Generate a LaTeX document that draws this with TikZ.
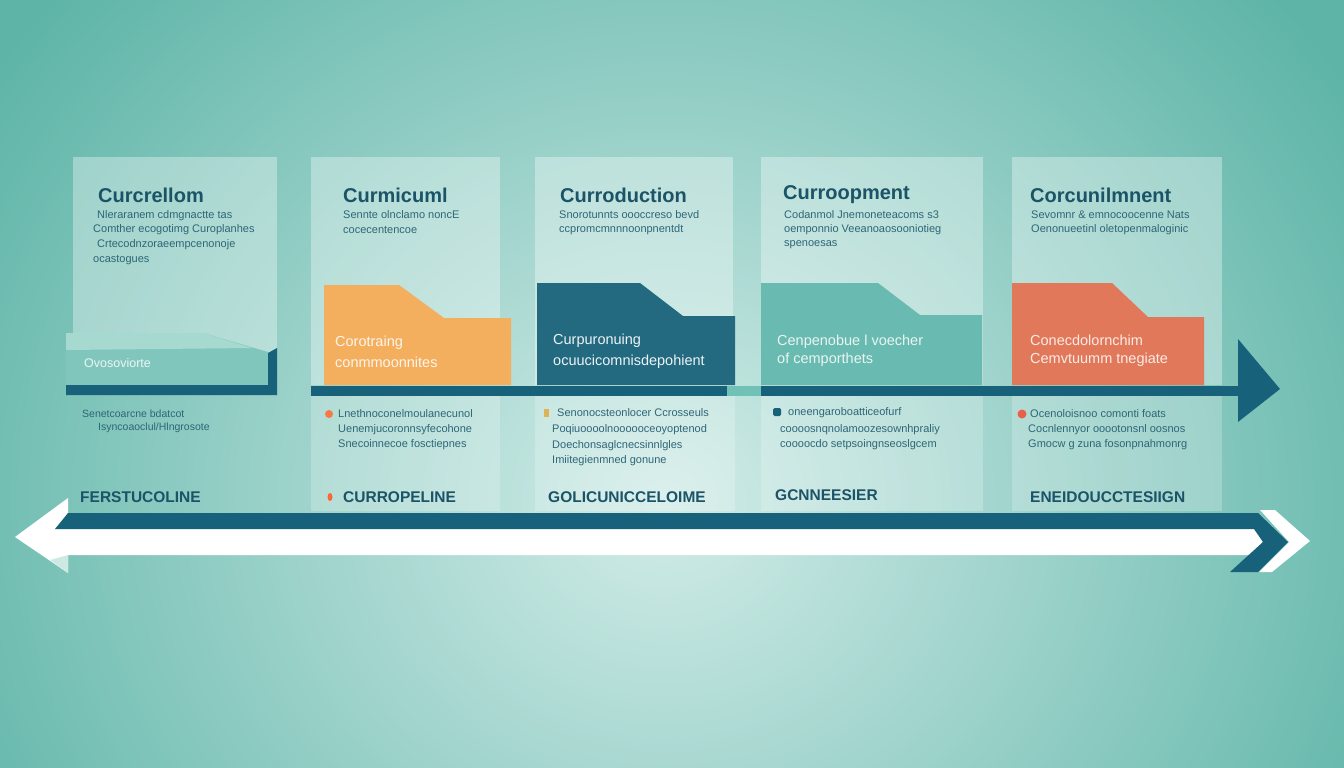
\documentclass[tikz,border=0pt]{standalone}
\usepackage{fontspec}
\setmainfont{Liberation Sans}
\definecolor{bgout}{HTML}{5DB4A7}
\definecolor{bgin}{HTML}{D2ECE8}
\definecolor{darkteal}{HTML}{17627A}
\definecolor{titlec}{HTML}{1B5367}
\definecolor{descc}{HTML}{2E6677}
\definecolor{orangetab}{HTML}{F3AE5E}
\definecolor{tealtab}{HTML}{69BAB0}
\definecolor{redtab}{HTML}{E1785A}
\definecolor{ribbonA}{HTML}{80C6BC}
\definecolor{ribbonB}{HTML}{A6DAD1}
\definecolor{gapc}{HTML}{72C1B6}
\tikzset{
  panel/.style={fill=white, fill opacity=0.34, draw=none},
  lowpanel/.style={fill=white, fill opacity=0.22, draw=none},
  ttl/.style={anchor=west, inner sep=0pt, text=titlec, font=\fontsize{20}{20}\selectfont\bfseries},
  desc/.style={anchor=west, inner sep=0pt, text=descc, font=\fontsize{11}{11}\selectfont},
  tabtext/.style={anchor=west, inner sep=0pt, font=\fontsize{14.5}{14.5}\selectfont},
  lab/.style={anchor=west, inner sep=0pt, text=titlec, font=\fontsize{15.5}{15.5}\selectfont\bfseries},
}
\begin{document}
\begin{tikzpicture}[x=1pt,y=-1pt]
\useasboundingbox (0,0) rectangle (1344,768);
% background
\begin{scope}
\clip (0,0) rectangle (1344,768);
\fill[bgout] (0,0) rectangle (1344,768);
\shade[inner color=bgin, outer color=bgout] (665,500) ellipse [x radius=820, y radius=760];
\end{scope}

% ---------- card 1 ----------
\fill[panel] (73,157) rectangle (277,385);
\fill[ribbonA] (66,333) -- (203,333) -- (268,352) -- (268,385) -- (66,385) -- cycle;
\fill[ribbonB] (66,333) -- (203,333) -- (252,348) -- (66,350) -- cycle;
\fill[darkteal] (268,353) -- (277,348) -- (277,395) -- (66,395) -- (66,385) -- (268,385) -- cycle;
\node[ttl] (t1) at (98,195) {Curcrellom};
\node[desc] (d1a) at (97,216) {Nleraranem cdmgnactte tas};
\node[desc] (d1b) at (93,230) {Comther ecogotimg Curoplanhes};
\node[desc] (d1c) at (97,245) {Crtecodnzoraeempcenonoje};
\node[desc] (d1d) at (93,260) {ocastogues};
\node[anchor=west, inner sep=0pt, text=white!85!ribbonA, font=\fontsize{12.5}{12.5}\selectfont] (r1) at (84,363) {Ovosoviorte};
\node[desc, font=\fontsize{10.5}{10.5}\selectfont] (b1a) at (82,414) {Senetcoarcne bdatcot};
\node[desc, font=\fontsize{10.5}{10.5}\selectfont] (b1b) at (98,428) {Isyncoaoclul/Hlngrosote};
\node[lab] (l1) at (80,497) {FERSTUCOLINE};

% ---------- card 2 ----------
\fill[panel] (311,157) rectangle (500,385);
\fill[lowpanel] (311,396) rectangle (500,511);
\fill[orangetab] (324,285) -- (399,285) -- (444,318) -- (511,318) -- (511,385) -- (324,385) -- cycle;
\node[ttl] (t2) at (343,195) {Curmicuml};
\node[desc] (d2a) at (343,215) {Sennte olnclamo noncE};
\node[desc] (d2b) at (343,230) {cocecentencoe};
\node[tabtext, text=white!88!orangetab] (g2a) at (335,343) {Corotraing};
\node[tabtext, text=white!88!orangetab] (g2b) at (335,362) {conmmoonnites};
\fill[orangetab!70!red] (329,414) circle (4);
\node[desc] (b2a) at (338,414) {Lnethnoconelmoulanecunol};
\node[desc] (b2b) at (338,430) {Uenemjucoronnsyfecohone};
\node[desc] (b2c) at (338,445) {Snecoinnecoe fosctiepnes};
\fill[orangetab!60!red] (330,497) ellipse [x radius=2.5, y radius=4];
\node[lab] (l2) at (343,497) {CURROPELINE};

% ---------- card 3 ----------
\fill[panel] (535,157) rectangle (733,385);
\fill[lowpanel] (535,396) rectangle (735,511);
\fill[darkteal!95!white] (537,283) -- (640,283) -- (683,316) -- (735,316) -- (735,385) -- (537,385) -- cycle;
\node[ttl] (t3) at (560,195) {Curroduction};
\node[desc] (d3a) at (559,215) {Snorotunnts oooccreso bevd};
\node[desc] (d3b) at (559,230) {ccpromcmnnnoonpnentdt};
\node[tabtext, text=white!92!darkteal] (g3a) at (553,341) {Curpuronuing};
\node[tabtext, text=white!92!darkteal] (g3b) at (553,362) {ocuucicomnisdepohient};
\fill[orangetab!80!yellow!80!gray] (544,409) rectangle (548.5,417);
\node[desc] (b3a) at (557,413) {Senonocsteonlocer Ccrosseuls};
\node[desc] (b3b) at (552,430) {Poqiuoooolnoooooceoyoptenod};
\node[desc] (b3c) at (552,446) {Doechonsaglcnecsinnlgles};
\node[desc] (b3d) at (552,461) {Imiitegienmned gonune};
\node[lab] (l3) at (548,497) {GOLICUNICCELOIME};

% ---------- card 4 ----------
\fill[panel] (761,157) rectangle (983,385);
\fill[lowpanel] (761,396) rectangle (983,511);
\fill[tealtab] (761,283) -- (878,283) -- (920,315) -- (982,315) -- (982,385) -- (761,385) -- cycle;
\node[ttl] (t4) at (783,195) {Curroopment};
\node[desc] (d4a) at (784,215) {Codanmol Jnemoneteacoms s3};
\node[desc] (d4b) at (784,230) {oemponnio Veeanoaosooniotieg};
\node[desc] (d4c) at (784,245) {spenoesas};
\node[tabtext, text=white!85!tealtab] (g4a) at (777,342) {Cenpenobue l voecher};
\node[tabtext, text=white!85!tealtab] (g4b) at (777,360) {of cemporthets};
\fill[darkteal, rounded corners=1.5pt] (773,408) rectangle (781,416);
\node[desc] (b4a) at (788,413) {oneengaroboatticeofurf};
\node[desc] (b4b) at (780,430) {coooosnqnolamoozesownhpraliy};
\node[desc] (b4c) at (780,445) {coooocdo setpsoingnseoslgcem};
\node[lab] (l4) at (775,495) {GCNNEESIER};

% ---------- card 5 ----------
\fill[panel] (1012,157) rectangle (1222,385);
\fill[lowpanel] (1012,396) rectangle (1222,511);
\fill[redtab] (1012,283) -- (1112,283) -- (1148,317) -- (1204,317) -- (1204,385) -- (1012,385) -- cycle;
\node[ttl] (t5) at (1030,195) {Corcunilmnent};
\node[desc] (d5a) at (1031,215) {Sevomnr \& emnocoocenne Nats};
\node[desc] (d5b) at (1031,230) {Oenonueetinl oletopenmaloginic};
\node[tabtext, text=white!85!redtab] (g5a) at (1030,340) {Conecdolornchim};
\node[tabtext, text=white!85!redtab] (g5b) at (1030,360) {Cemvtuumm tnegiate};
\fill[redtab!80!red] (1022,414) circle (4.5);
\node[desc] (b5a) at (1030,414) {Ocenoloisnoo comonti foats};
\node[desc] (b5b) at (1028,430) {Cocnlennyor ooootonsnl oosnos};
\node[desc] (b5c) at (1028,445) {Gmocw g zuna fosonpnahmonrg};
\node[lab] (l5) at (1030,497) {ENEIDOUCCTESIIGN};

% ---------- timeline arrow ----------
\fill[darkteal] (311,386) rectangle (727,396);
\fill[gapc] (727,386) rectangle (761,396);
\fill[darkteal] (761,386) rectangle (1240,396);
\fill[darkteal] (1238,339) -- (1280,389) -- (1238,422) -- cycle;

% ---------- bottom double arrow ----------
\fill[white] (68,498) -- (15,537) -- (68,573) -- (68,555) -- (1250,555) -- (1263,542) -- (1255,529) -- (68,529) -- cycle;
\fill[white!70!bgout] (50,560) -- (68,573) -- (68,555) -- cycle;
\fill[darkteal] (68,513) -- (1258,513) -- (1288,542) -- (1258,572) -- (1230,572) -- (1263,542) -- (1254,529) -- (55,529) -- cycle;
\fill[white] (1260,510) -- (1275,510) -- (1310,541) -- (1272,572) -- (1259,572) -- (1289,542) -- cycle;
\end{tikzpicture}
\end{document}
